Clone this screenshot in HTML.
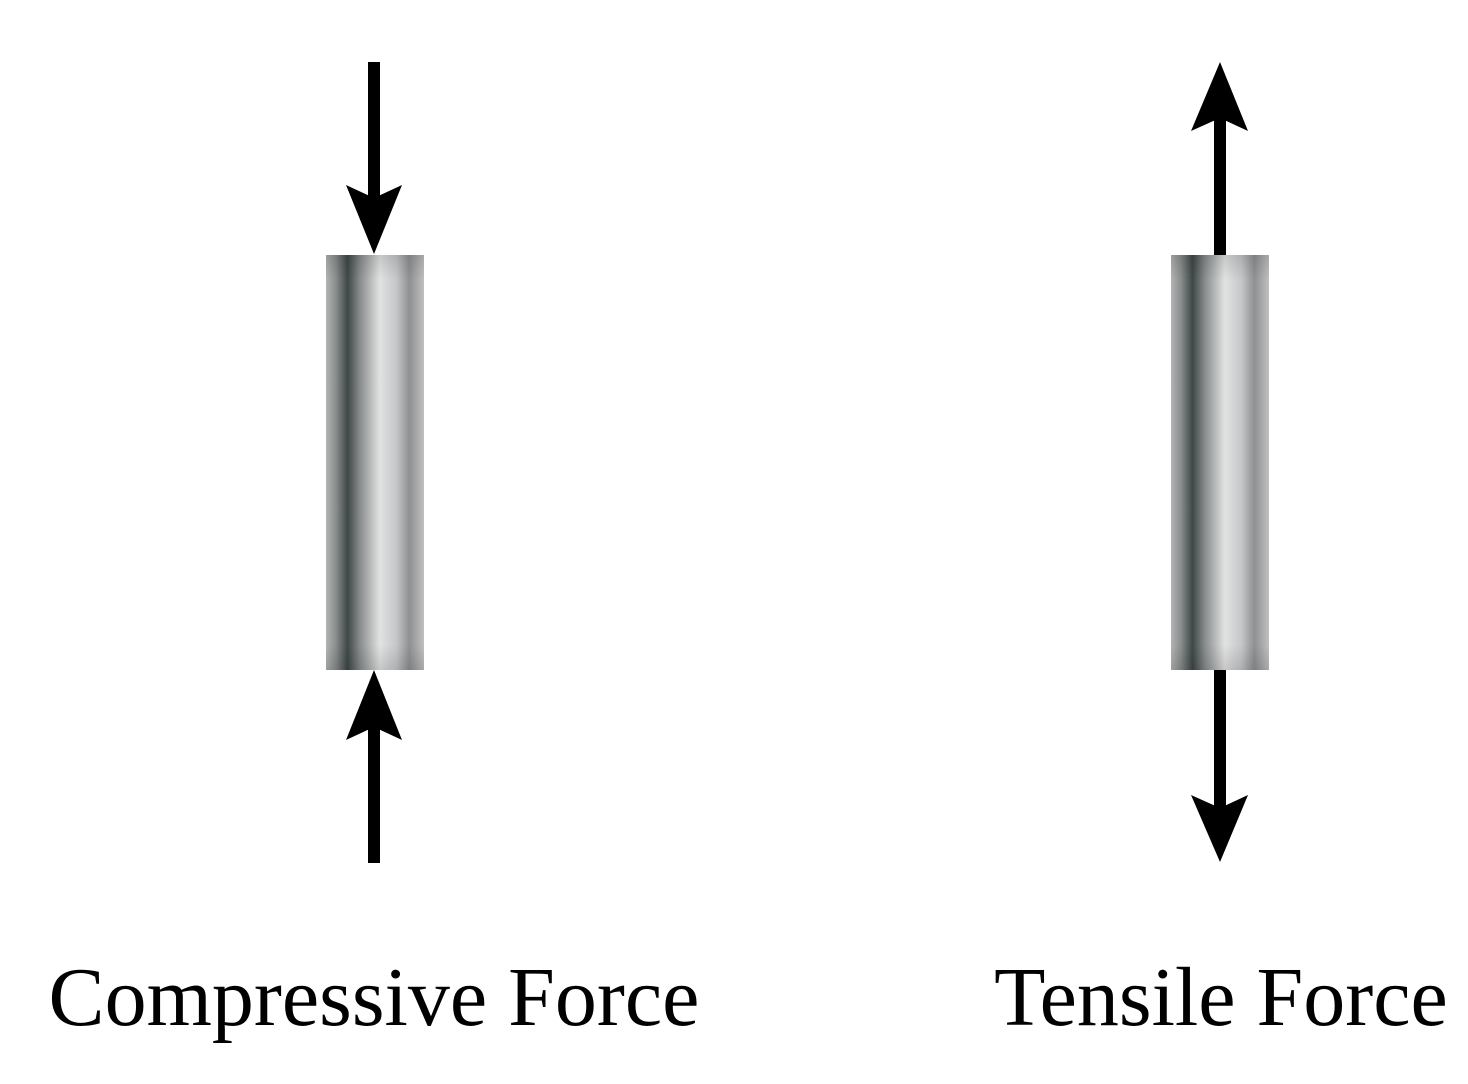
<!DOCTYPE html>
<html><head><style>
html,body{margin:0;padding:0;background:#fff;}
svg{display:block;}
</style></head><body>
<svg width="1468" height="1084" viewBox="0 0 1468 1084" xmlns="http://www.w3.org/2000/svg">
<defs>
<linearGradient id="g" x1="0" x2="1" y1="0" y2="0">
<stop offset="0" stop-color="#b4b4b4"/>
<stop offset="0.1" stop-color="#8a8e8e"/>
<stop offset="0.22" stop-color="#3f4747"/>
<stop offset="0.35" stop-color="#8a8e8e"/>
<stop offset="0.55" stop-color="#e2e2e2"/>
<stop offset="0.72" stop-color="#c4c6c8"/>
<stop offset="0.85" stop-color="#8e9092"/>
<stop offset="1" stop-color="#c0c0c0"/>
</linearGradient>
<linearGradient id="v" x1="0" x2="0" y1="0" y2="1">
<stop offset="0" stop-color="#000" stop-opacity="0.12"/>
<stop offset="0.06" stop-color="#000" stop-opacity="0"/>
<stop offset="0.94" stop-color="#000" stop-opacity="0"/>
<stop offset="1" stop-color="#000" stop-opacity="0.12"/>
</linearGradient>
</defs>
<!-- left -->
<rect x="326" y="255" width="98" height="415" fill="url(#g)"/>
<rect x="326" y="255" width="98" height="415" fill="url(#v)"/>
<rect x="368" y="62" width="12" height="140" fill="#000"/>
<polygon points="346,185 374,198 402,185 374,254" fill="#000"/>
<rect x="368" y="725" width="12" height="138" fill="#000"/>
<polygon points="346,740 374,727 402,740 374,670" fill="#000"/>
<!-- right -->
<rect x="1171" y="255" width="98" height="415" fill="url(#g)"/>
<rect x="1171" y="255" width="98" height="415" fill="url(#v)"/>
<rect x="1214" y="115" width="12" height="140" fill="#000"/>
<polygon points="1191,131 1220,118 1248,131 1220,62" fill="#000"/>
<rect x="1214" y="670" width="12" height="140" fill="#000"/>
<polygon points="1191,795 1220,808 1248,795 1220,862" fill="#000"/>
<text x="374" y="1025" text-anchor="middle" font-family="Liberation Serif, serif" font-size="84" fill="#000">Compressive Force</text>
<text x="1221" y="1025" text-anchor="middle" font-family="Liberation Serif, serif" font-size="84" fill="#000">Tensile Force</text>
</svg>
</body></html>
